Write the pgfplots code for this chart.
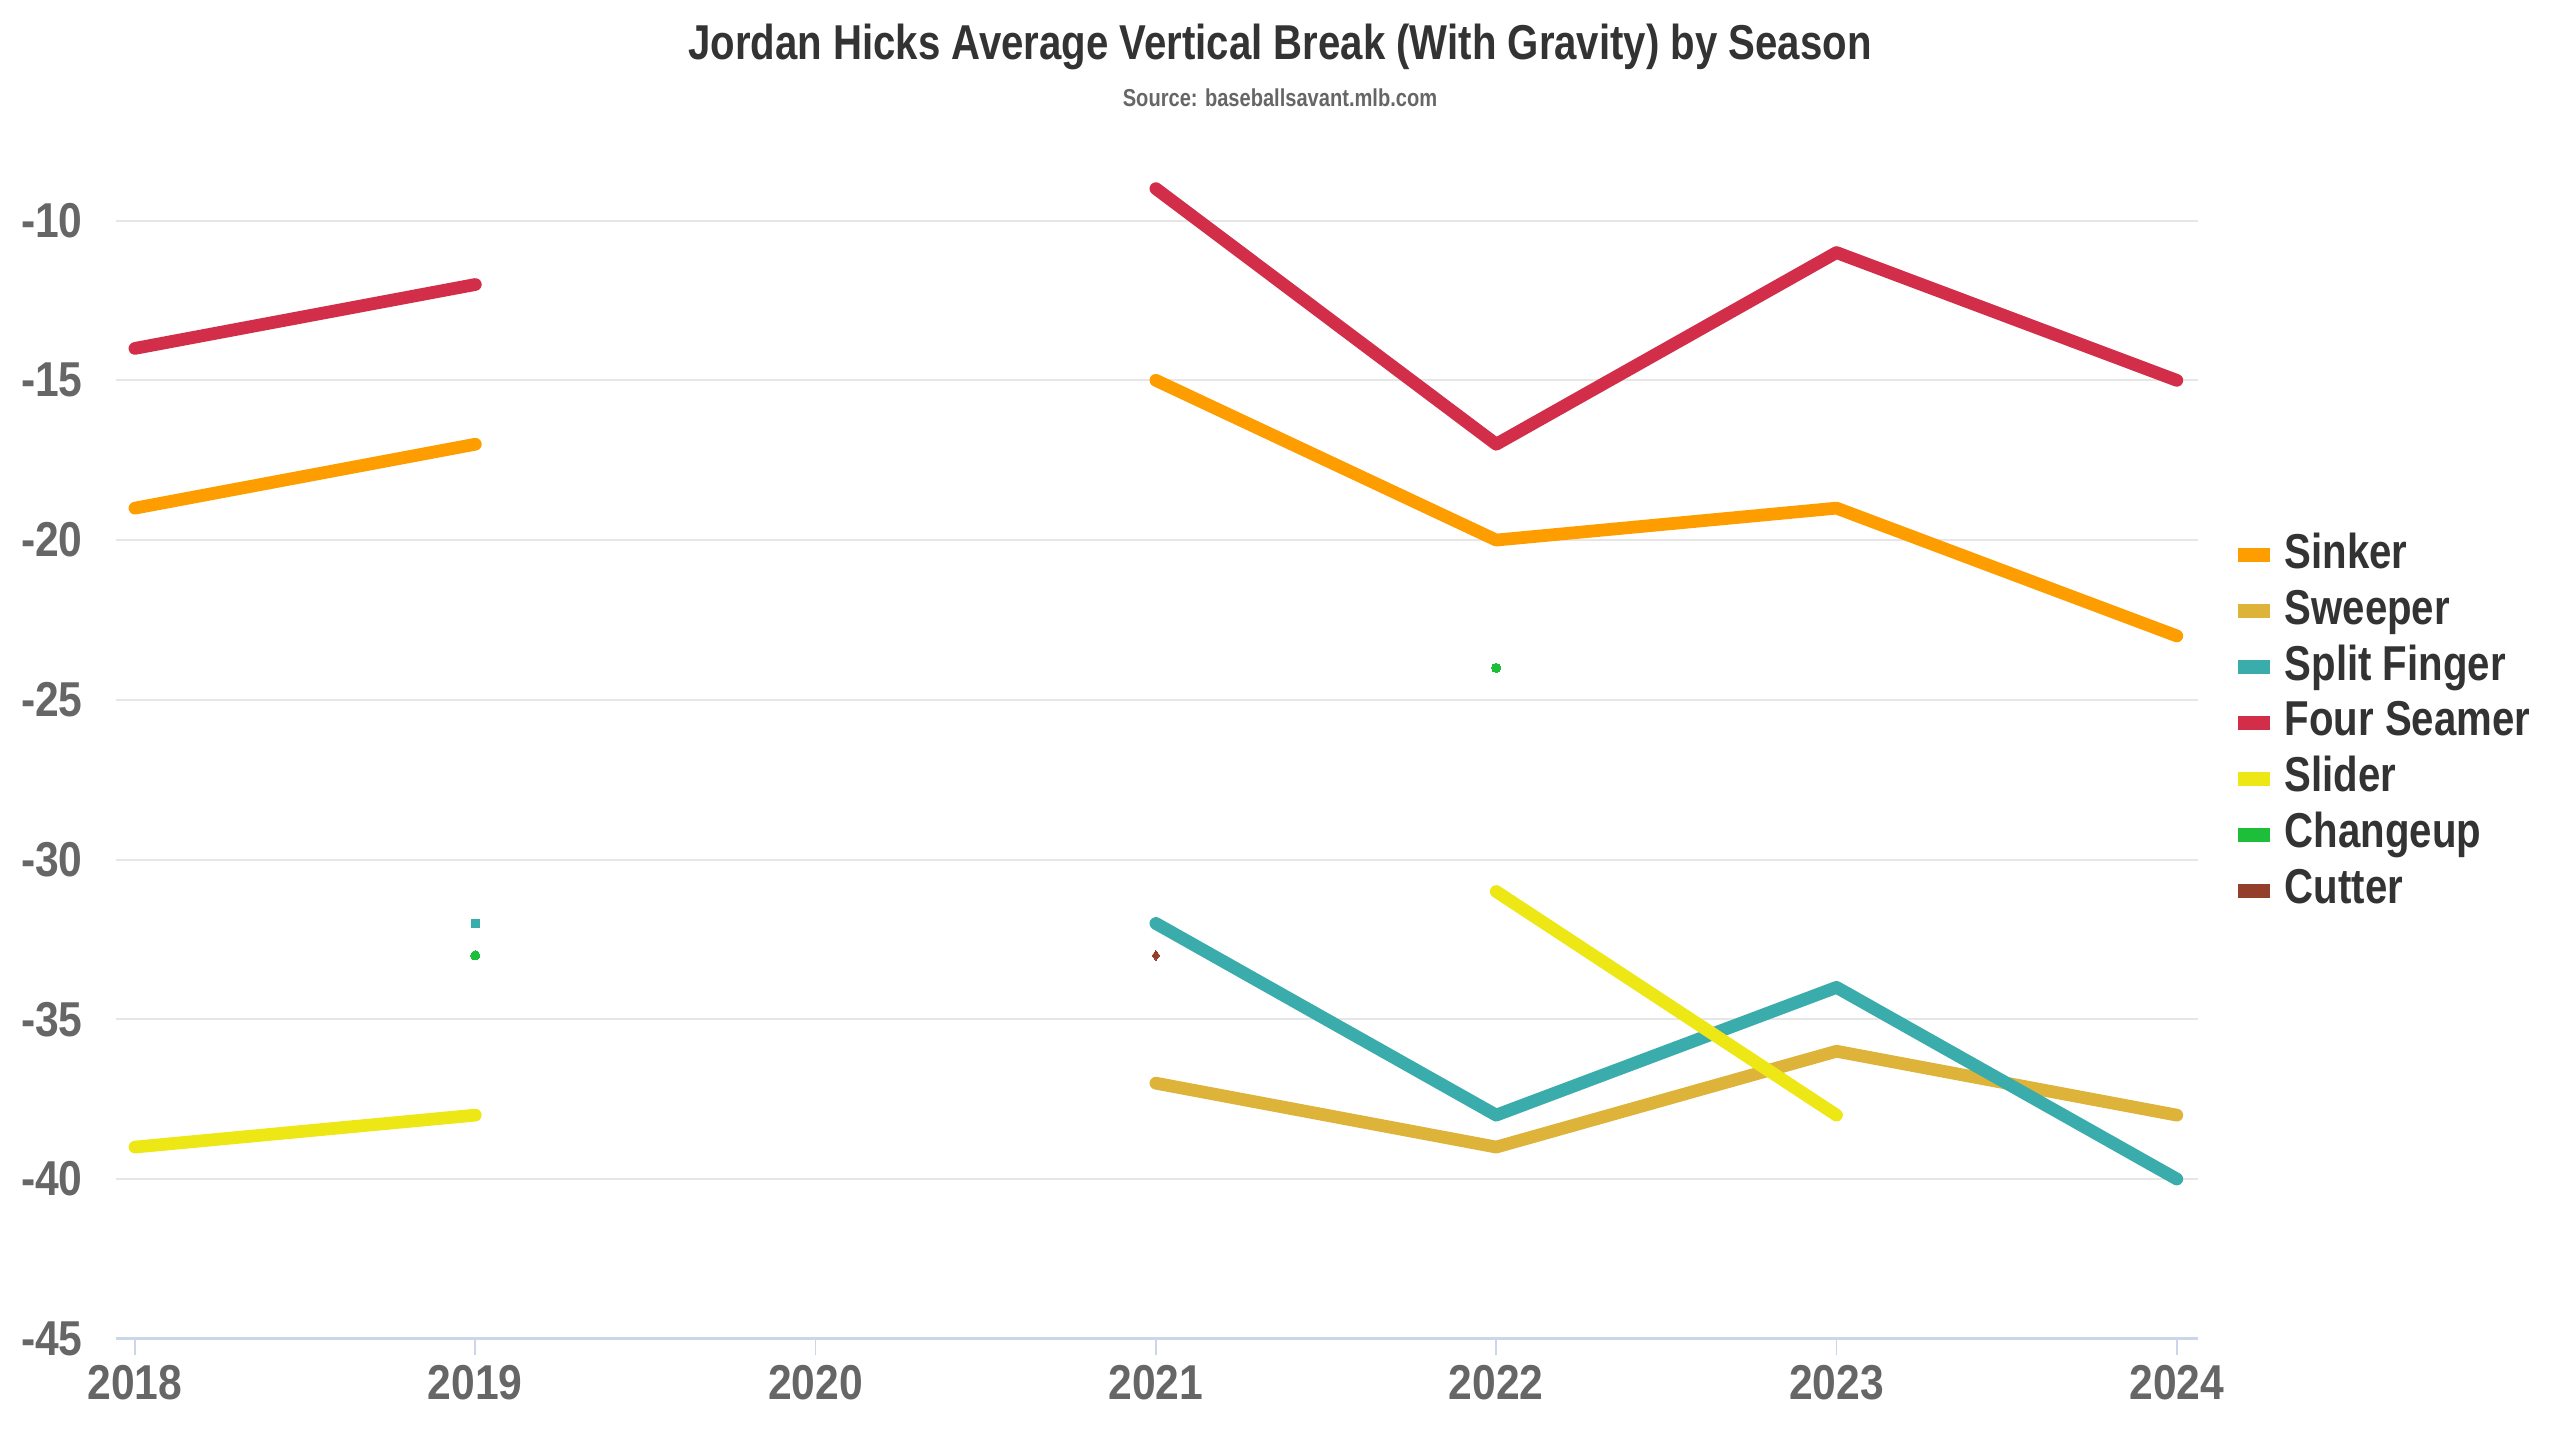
\documentclass[border=0pt]{standalone}
\usepackage{fontspec}
\setmainfont{Liberation Sans}[FakeStretch=0.82]
\newfontfamily\tickfont{Liberation Sans}[FakeStretch=0.87]
\usepackage{pgfplots}
\pgfplotsset{compat=1.18}
\definecolor{sinker}{HTML}{FE9D00}
\definecolor{sweeper}{HTML}{DDB33A}
\definecolor{split}{HTML}{3BACAC}
\definecolor{fourseam}{HTML}{D22D49}
\definecolor{slider}{HTML}{EEE716}
\definecolor{changeup}{HTML}{1DBE3A}
\definecolor{cutter}{HTML}{933F2C}
\definecolor{titlecol}{HTML}{333333}
\definecolor{tickcol}{HTML}{666666}
\definecolor{gridcol}{HTML}{E6E6E6}
\definecolor{axiscol}{HTML}{CCD6EB}
\newcommand{\lgbox}[1]{\addlegendimage{legend image code/.code={\path[fill=#1, draw=none, line width=0pt] (0pt,-2.2pt) rectangle (10pt,2.2pt); \path (11.5pt,0pt);}}}
\begin{document}
\begin{tikzpicture}
\path[use as bounding box] (-35.5pt,-31pt) rectangle (748.5pt,410pt);
\begin{axis}[
  scale only axis,
  width=637.6pt, height=362pt,
  xmin=2017.944, xmax=2024.062,
  ymin=-45, ymax=-8,
  xtick={2018,2019,2020,2021,2022,2023,2024},
  ytick={-45,-40,-35,-30,-25,-20,-15,-10},
  /pgf/number format/assume math mode=true,
  xticklabel={\pgfmathprintnumber[1000 sep={}]{\tick}},
  yticklabel={\pgfmathprintnumber{\tick}},
  ymajorgrids,
  grid style={gridcol, line width=0.6pt},
  axis x line*=bottom,
  axis y line*=left,
  y axis line style={draw=none},
  ytick style={draw=none},
  x axis line style={axiscol, line width=1pt, -},
  xtick style={axiscol, line width=0.5pt},
  major tick length=5pt,
  tick align=outside,
  xticklabel style={font=\fontsize{15}{17}\selectfont\tickfont\bfseries, text=tickcol, inner sep=0pt, anchor=north, yshift=-3pt},
  yticklabel style={font=\fontsize{15}{17}\selectfont\tickfont\bfseries, text=tickcol, inner sep=0pt, anchor=east, xshift=-5pt},
  unbounded coords=jump,
  clip=false,
  legend style={draw=none, fill=none, at={(1.0140,0.521)}, anchor=west,
    font=\fontsize{15}{17}\selectfont\bfseries, text=titlecol,
    row sep=0pt,
    nodes={inner xsep=1pt, inner ysep=1.07pt, text height=11.5pt, text depth=3.5pt}},
  legend cell align=left,
  every axis plot/.append style={line width=3.9pt, line cap=round, line join=round},
]
\addplot[sinker, forget plot] coordinates {(2018,-19) (2019,-17) (2020,nan) (2021,-15) (2022,-20) (2023,-19) (2024,-23)};
\addplot[sweeper, forget plot] coordinates {(2021,-37) (2022,-39) (2023,-36) (2024,-38)};
\addplot[split, forget plot] coordinates {(2021,-32) (2022,-38) (2023,-34) (2024,-40)};
\addplot[split, only marks, mark=square*, mark size=1.2pt, line width=0pt, mark options={draw=none}, forget plot] coordinates {(2019,-32)};
\addplot[fourseam, forget plot] coordinates {(2018,-14) (2019,-12) (2020,nan) (2021,-9) (2022,-17) (2023,-11) (2024,-15)};
\addplot[slider, forget plot] coordinates {(2018,-39) (2019,-38) (2020,nan) (2022,-31) (2023,-38)};
\addplot[changeup, only marks, mark=*, mark size=1.4pt, line width=0pt, mark options={draw=none}, forget plot] coordinates {(2019,-33) (2022,-24)};
\addplot[cutter, only marks, mark=diamond*, mark size=1.5pt, line width=0pt, mark options={draw=none}, forget plot] coordinates {(2021,-33)};
\lgbox{sinker}\addlegendentry{\bfseries Sinker}
\lgbox{sweeper}\addlegendentry{\bfseries Sweeper}
\lgbox{split}\addlegendentry{\bfseries Split Finger}
\lgbox{fourseam}\addlegendentry{\bfseries Four Seamer}
\lgbox{slider}\addlegendentry{\bfseries Slider}
\lgbox{changeup}\addlegendentry{\bfseries Changeup}
\lgbox{cutter}\addlegendentry{\bfseries Cutter}
\end{axis}
\node[text=titlecol, font=\fontsize{15}{17}\selectfont\bfseries] at (356.5pt,395.5pt) {Jordan Hicks Average Vertical Break (With Gravity) by Season};
\node[text=tickcol, font=\fontsize{7.5}{9}\selectfont\bfseries] at (356.5pt,380pt) {Source: baseballsavant.mlb.com};
\end{tikzpicture}
\end{document}
